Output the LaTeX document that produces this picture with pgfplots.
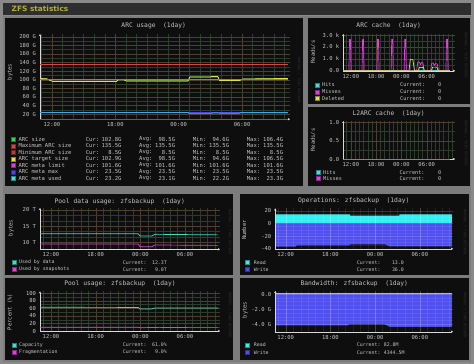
\documentclass[border=0pt]{standalone}
\usepackage{pgfplots}
\pgfplotsset{compat=1.18}
\usepackage{fontspec}
\usetikzlibrary{arrows.meta}
\setmainfont{DejaVu Sans}
\newfontfamily\monof{DejaVu Sans Mono}
\definecolor{outerc}{HTML}{8A8A8A}
\definecolor{gapc}{HTML}{7C7C7C}
\definecolor{panelc}{HTML}{0E0E0E}
\definecolor{titlebar}{HTML}{2E2E2E}
\definecolor{titletxt}{HTML}{B0B030}
\definecolor{txt}{HTML}{C4C4C4}
\definecolor{axc}{HTML}{D8D8D8}
\definecolor{gmin}{HTML}{2E3C2E}
\definecolor{gmaj}{HTML}{4E4030}
\definecolor{wm}{HTML}{303030}
\definecolor{cyanC}{HTML}{40E0E0}
\definecolor{tealC}{HTML}{40E0C0}
\definecolor{magC}{HTML}{E040E0}
\definecolor{yelC}{HTML}{E0E048}
\definecolor{redC}{HTML}{D04848}
\definecolor{redD}{HTML}{C03838}
\definecolor{greenC}{HTML}{40D040}
\definecolor{blueC}{HTML}{4848E8}
\definecolor{writeC}{HTML}{5050F0}
\definecolor{readC}{HTML}{30F0F0}
\newcommand\tf{\monof\fontsize{5.5}{6}\selectfont}
\newcommand\tfm{\monof\fontsize{5.2}{6}\selectfont}
\newcommand\tfs{\monof\fontsize{4.9}{5.5}\selectfont}
\newcommand\ttl{\monof\fontsize{6.3}{7}\selectfont}
\newcommand\wmf{\monof\fontsize{3.4}{4}\selectfont}
\pgfplotsset{
  rrd/.style={
    scale only axis, anchor=south west,
    axis x line*=bottom, axis y line*=left,
    axis line style={draw=axc, line width=0.4pt},
    x axis line style={-{Stealth[length=2.2pt,width=2.4pt]}},
    y axis line style={-{Stealth[length=2.2pt,width=2.4pt]}},
    tick style={draw=none},
    grid=both,
    major grid style={draw=gmaj, line width=0.3pt},
    minor grid style={draw=gmin, line width=0.25pt},
    tick label style={font=\tf, text=txt},
    yticklabel style={xshift=-0.5pt},
    xtick={12,18,24,30}, xticklabels={12:00,18:00,00:00,06:00},
    every axis plot/.append style={line width=0.7pt, line join=round},
  },
}
\tikzset{
  lg/.style={anchor=west, inner sep=0pt, text=txt, font=\tf},
  lgr/.style={anchor=east, inner sep=0pt, text=txt, font=\tf},
  lgm/.style={anchor=west, inner sep=0pt, text=txt, font=\tfm},
  lgmr/.style={anchor=east, inner sep=0pt, text=txt, font=\tfm},
  lgs/.style={anchor=west, inner sep=0pt, text=txt, font=\tfs},
  lgsr/.style={anchor=east, inner sep=0pt, text=txt, font=\tfs},
}
\newcommand\lsq[3]{\filldraw[fill=#1,draw=#1!60!black,line width=0.3pt] (#2-2,-#3-2) rectangle (#2+2,-#3+2);}
\newcommand\arcrow[7]{%
  \lsq{#2}{12.7}{#1}
  \node[lg] at (18.3,-#1) {#3};
  \node[lg] at (85.7,-#1) {Cur:};
  \node[lgr] at (121.7,-#1) {#4};
  \node[lg] at (139,-#1) {Avg:};
  \node[lgr] at (175.3,-#1) {#5};
  \node[lg] at (192.7,-#1) {Min:};
  \node[lgr] at (229.3,-#1) {#6};
  \node[lg] at (246.7,-#1) {Max:};
  \node[lgr] at (283.3,-#1) {#7};
}
\begin{document}
\begin{tikzpicture}[x=1pt,y=1pt]
\useasboundingbox (0,0) rectangle (474,-364);
\fill[outerc] (0,0) rectangle (474,-364);
\fill[gapc] (3,-16) rectangle (471,-362);
% title bar
\fill[titlebar] (3,-2.5) rectangle (471,-15);
\node[anchor=west,inner sep=0pt,text=titletxt,font=\fontsize{7.4}{8}\selectfont\bfseries] at (11.5,-9) {ZFS statistics};
% panels
\fill[panelc] (5,-18) rectangle (303,-186);
\fill[panelc] (308,-18) rectangle (470,-104);
\fill[panelc] (308,-107) rectangle (470,-186);
\fill[panelc] (5,-194) rectangle (233,-275);
\fill[panelc] (5,-278) rectangle (233,-360);
\fill[panelc] (240,-194) rectangle (469,-275);
\fill[panelc] (240,-278) rectangle (469,-360);
% watermarks
\node[rotate=-90,text=wm,font=\wmf,inner sep=0] at (299,-80) {RRDTOOL / TOBI OETIKER};
\node[rotate=-90,text=wm,font=\wmf,inner sep=0] at (466,-55) {RRDTOOL / TOBI OETIKER};
\node[rotate=-90,text=wm,font=\wmf,inner sep=0] at (466,-143) {RRDTOOL / TOBI OETIKER};
\node[rotate=-90,text=wm,font=\wmf,inner sep=0] at (230,-232) {RRDTOOL / TOBI OETIKER};
\node[rotate=-90,text=wm,font=\wmf,inner sep=0] at (230,-315) {RRDTOOL / TOBI OETIKER};
\node[rotate=-90,text=wm,font=\wmf,inner sep=0] at (465,-232) {RRDTOOL / TOBI OETIKER};
\node[rotate=-90,text=wm,font=\wmf,inner sep=0] at (465,-315) {RRDTOOL / TOBI OETIKER};

% ================= ARC usage =================
\node[text=txt,font=\ttl,inner sep=0] at (153.7,-26) {ARC usage\ \ (1day)};
\node[rotate=90,text=txt,font=\tf,inner sep=0] at (10,-72) {bytes};
\begin{axis}[rrd, at={(40pt,-119.2pt)}, width=250pt, height=85.1pt,
  xmin=10.87, xmax=34.54, ymin=8, ymax=206,
  ytick={20,40,...,200},
  yticklabels={20 G,40 G,60 G,80 G,100 G,120 G,140 G,160 G,180 G,200 G},
  minor y tick num=1, minor xtick={11,...,34}]
\addplot[redD] coordinates {(10.87,8.5)(34.33,8.5)};
\addplot[redC] coordinates {(10.87,135.5)(34.33,135.5)};
\addplot[blueC] coordinates {(10.87,23.5)(34.33,23.5)};
\addplot[cyanC] coordinates {(10.87,23.3)(24.9,23.3)(25.0,21.6)(27.1,21.6)(27.24,22.5)(27.8,22.5)(27.9,21.8)(29.7,21.8)(29.9,23.2)(34.33,23.2)};
\addplot[greenC] coordinates {(10.87,102.8)(11.5,102)(12.12,95.5)(18.11,95.5)(18.26,100)(18.8,100)(19.06,97)(24.88,97)(25.04,106)(26.93,106)(27.09,106.4)(27.71,106.4)(27.87,98)(29.76,98)(30.08,101.5)(34.33,102.8)};
\addplot[yelC] coordinates {(10.87,102.9)(11.5,102)(12.12,95.5)(18.11,95.5)(18.26,100)(18.8,100)(19.06,97)(24.88,97)(25.04,106)(26.93,106)(27.09,107.3)(27.71,107.3)(27.87,98)(29.76,98)(30.08,101.5)(34.33,102.9)};
\addplot[magC] coordinates {(10.87,101.6)(34.33,101.6)};
\end{axis}
\arcrow{139.3}{greenC}{ARC size}{102.8G}{98.5G}{94.6G}{106.4G}
\arcrow{145.8}{redC}{Maximum ARC size}{135.5G}{135.5G}{135.5G}{135.5G}
\arcrow{152.3}{redD}{Minimum ARC size}{8.5G}{8.5G}{8.5G}{8.5G}
\arcrow{158.8}{yelC}{ARC target size}{102.9G}{98.5G}{94.6G}{106.5G}
\arcrow{165.3}{magC}{ARC meta limit}{101.6G}{101.6G}{101.6G}{101.6G}
\arcrow{171.8}{blueC}{ARC meta max}{23.5G}{23.5G}{23.5G}{23.5G}
\arcrow{178.3}{cyanC}{ARC meta used}{23.2G}{23.1G}{22.2G}{23.3G}

% ================= ARC cache =================
\node[text=txt,font=\ttl,inner sep=0] at (388.7,-25.7) {ARC cache\ \ (1day)};
\node[rotate=90,text=txt,font=\tf,inner sep=0] at (313,-52) {Reads/s};
\begin{axis}[rrd, at={(343.3pt,-70.7pt)}, width=111.7pt, height=36.7pt,
  xmin=10.22, xmax=36.7, ymin=0, ymax=3.08,
  ytick={0,1,2,3}, yticklabels={0.0,1.0 k,2.0 k,3.0 k},
  minor y tick num=1, minor xtick={11,...,36}]
\addplot[cyanC] coordinates {(10.22,0)(35.5,0)};
\addplot[magC] coordinates {(10.22,0)(11.55,0)(11.7,2.65)(11.9,2.65)(12.05,0)
 (14.65,0)(14.8,2.65)(15.0,2.65)(15.15,0)
 (18.2,0)(18.35,2.65)(18.55,2.65)(18.7,0)
 (21.55,0)(21.7,2.65)(21.9,2.65)(22.05,0)
 (24.65,0)(24.8,2.65)(25.0,2.65)(25.15,0)
 (27.6,0)(27.9,0.75)(28.3,0.7)(28.5,0.5)(28.8,0.7)(29.1,0.65)(29.4,0)
 (30.9,0)(31.2,0.65)(31.5,0.65)(31.8,0.45)(32.1,0.6)(32.5,0.55)(32.8,0)
 (34.55,0)(34.7,2.65)(34.9,2.65)(35.05,0)(35.5,0)};
\addplot[yelC] coordinates {(10.22,0)(25.8,0)(26.1,0.95)(26.7,0.95)(27.1,0)(28.0,0)(28.3,0.3)(28.7,0.25)(29.2,0.3)(29.4,0)(31.1,0)(31.4,0.3)(32.4,0.3)(32.7,0)(35.5,0)};
\end{axis}
\lsq{cyanC}{316.7}{85}
\lsq{magC}{316.7}{91.7}
\lsq{yelC}{316.7}{98.3}
\node[lgm] at (322,-85) {Hits};
\node[lgm] at (322,-91.7) {Misses};
\node[lgm] at (322,-98.3) {Deleted};
\node[lgm] at (400,-85) {Current:};
\node[lgm] at (400,-91.7) {Current:};
\node[lgm] at (400,-98.3) {Current:};
\node[lgmr] at (441.5,-85) {0};
\node[lgmr] at (441.5,-91.7) {0};
\node[lgmr] at (441.5,-98.3) {0};

% ================= L2ARC cache =================
\node[text=txt,font=\ttl,inner sep=0] at (388.7,-113.3) {L2ARC cache\ \ (1day)};
\node[rotate=90,text=txt,font=\tf,inner sep=0] at (313,-140) {Reads/s};
\begin{axis}[rrd, at={(343.3pt,-159pt)}, width=111.7pt, height=38pt,
  xmin=10.22, xmax=36.7, ymin=0, ymax=1.04,
  ytick={0,0.5,1}, yticklabels={0.0,0.5,1.0},
  minor y tick num=1, minor xtick={11,...,36}]
\addplot[cyanC] coordinates {(10.22,0)(35.5,0)};
\addplot[magC] coordinates {(10.22,0)(35.5,0)};
\end{axis}
\lsq{cyanC}{317.7}{172.3}
\lsq{magC}{317.7}{178.6}
\node[lgm] at (323,-172.3) {Hits};
\node[lgm] at (323,-178.6) {Misses};
\node[lgm] at (399.3,-172.3) {Current:};
\node[lgm] at (399.3,-178.6) {Current:};
\node[lgmr] at (441.5,-172.3) {0};
\node[lgmr] at (441.5,-178.6) {0};

% ================= Pool data usage =================
\node[text=txt,font=\ttl,inner sep=0] at (119.7,-201.7) {Pool data usage: zfsbackup\ \ (1day)};
\node[rotate=90,text=txt,font=\tf,inner sep=0] at (11,-228) {bytes};
\begin{axis}[rrd, at={(40pt,-249.3pt)}, width=180pt, height=41.3pt,
  xmin=10.52, xmax=34.7, ymin=7.84, ymax=20.6,
  ytick={10,15,20}, yticklabels={10 T,15 T,20 T},
  minor y tick num=2, minor xtick={11,...,34}]
\addplot[tealC] coordinates {(10.52,12.65)(23.72,12.65)(23.95,11.94)(25.52,11.94)(25.96,12.47)(34.46,12.3)};
\addplot[magC] coordinates {(10.52,9.48)(23.72,9.48)(23.95,8.64)(25.52,8.64)(25.96,9.17)(34.46,9.05)};
\end{axis}
\lsq{tealC}{13.7}{262.3}
\lsq{magC}{13.7}{269.3}
\node[lgs] at (19,-262.3) {Used by data};
\node[lgs] at (19,-269.3) {Used by snapshots};
\node[lgs] at (122.7,-262.3) {Current:};
\node[lgs] at (122.7,-269.3) {Current:};
\node[lgsr] at (167,-262.3) {12.3T};
\node[lgsr] at (167,-269.3) {9.0T};

% ================= Pool usage =================
\node[text=txt,font=\ttl,inner sep=0] at (120,-284) {Pool usage: zfsbackup\ \ (1day)};
\node[rotate=90,text=txt,font=\tf,inner sep=0] at (10,-312) {Percent (\%)};
\begin{axis}[rrd, at={(40pt,-331pt)}, width=180pt, height=39.6pt,
  xmin=10.52, xmax=34.7, ymin=0, ymax=105,
  ytick={0,20,...,100}, yticklabels={0,20,40,60,80,100},
  minor y tick num=1, minor xtick={11,...,34}]
\addplot[tealC] coordinates {(10.52,62.9)(23.72,62.5)(23.95,58.4)(25.52,58.4)(25.96,61)(34.46,61)};
\addplot[magC] coordinates {(10.52,9.8)(23.72,9.8)(24.0,8.6)(25.5,9.3)(26.5,9.6)(28.5,9.2)(30.5,9.0)(34.46,9.0)};
\end{axis}
\lsq{tealC}{13.7}{345}
\lsq{magC}{13.7}{352}
\node[lgs] at (19,-345) {Capacity};
\node[lgs] at (19,-352) {Fragmentation};
\node[lgs] at (122.7,-345) {Current:};
\node[lgs] at (122.7,-352) {Current:};
\node[lgsr] at (167,-345) {61.0\%};
\node[lgsr] at (167,-352) {9.0\%};

% ================= Operations =================
\node[text=txt,font=\ttl,inner sep=0] at (353.8,-201) {Operations: zfsbackup\ \ (1day)};
\node[rotate=90,text=txt,font=\tf,inner sep=0] at (244,-230) {Number};
\begin{axis}[rrd, at={(275.3pt,-248.7pt)}, width=177.7pt, height=40.4pt,
  xmin=10.6, xmax=34.46, ymin=-40, ymax=23.8,
  ytick={-40,-20,0,20}, yticklabels={-40,-20,0,20},
  minor y tick num=3, minor xtick={11,...,34}, axis on top,
  major grid style={draw=white, opacity=0.16, line width=0.3pt},
  minor grid style={draw=white, opacity=0.08, line width=0.25pt}]
\addplot[fill=readC, draw=none] coordinates {(10.6,0)(10.6,14.3)(20.59,14.3)(20.65,12.2)(27.25,12.2)(27.3,14.3)(34.3,14.3)(34.3,0)};
\addplot[fill=writeC, draw=none] coordinates {(10.6,0)(10.6,-36.8)(13.3,-36.8)(13.5,-34.7)(20.5,-34.7)(20.7,-33.1)(25.29,-33.1)(25.96,-36.2)(34.3,-36.2)(34.3,0)};
\end{axis}
\lsq{readC}{247.3}{262.3}
\lsq{writeC}{247.3}{269.3}
\node[lgs] at (253.7,-262.3) {Read};
\node[lgs] at (253.7,-269.3) {Write};
\node[lgs] at (356.7,-262.3) {Current:};
\node[lgs] at (356.7,-269.3) {Current:};
\node[lgsr] at (404,-262.3) {13.0};
\node[lgsr] at (404,-269.3) {36.0};

% ================= Bandwidth =================
\node[text=txt,font=\ttl,inner sep=0] at (354.3,-284) {Bandwidth: zfsbackup\ \ (1day)};
\node[rotate=90,text=txt,font=\tf,inner sep=0] at (245,-310) {bytes};
\begin{axis}[rrd, at={(275.3pt,-331.7pt)}, width=177.7pt, height=40.7pt,
  xmin=10.6, xmax=34.46, ymin=-4.97, ymax=0.4,
  ytick={-4,-2,0}, yticklabels={-4.0 G,-2.0 G,0.0},
  minor y tick num=3, minor xtick={11,...,34}, axis on top,
  major grid style={draw=white, opacity=0.16, line width=0.3pt},
  minor grid style={draw=white, opacity=0.08, line width=0.25pt}]
\addplot[fill=writeC, draw=none] coordinates {(10.6,0)(10.6,-4.13)(20.36,-4.13)(20.5,-4.0)(25.29,-4.0)(25.96,-4.32)(34.3,-4.32)(34.3,0)};
\addplot[readC, line width=0.8pt] coordinates {(10.6,0.04)(34.3,0.04)};
\end{axis}
\lsq{readC}{247.3}{345}
\lsq{writeC}{247.3}{352.3}
\node[lgs] at (253.7,-345) {Read};
\node[lgs] at (253.7,-352.3) {Write};
\node[lgs] at (356.7,-345) {Current:};
\node[lgs] at (356.7,-352.3) {Current:};
\node[lgs] at (383.6,-345) {82.8M};
\node[lgs] at (383.6,-352.3) {4344.5M};
\end{tikzpicture}
\end{document}
